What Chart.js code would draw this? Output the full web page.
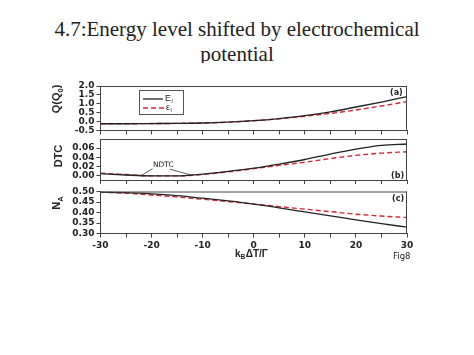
<!DOCTYPE html>
<html><head><meta charset="utf-8">
<script src="https://cdn.jsdelivr.net/npm/chart.js@4.4.1/dist/chart.umd.min.js"></script>
<style>
html,body{margin:0;padding:0;background:#fff;width:474px;height:355px;overflow:hidden}
#title{position:absolute;left:0;top:17px;width:474px;height:46px;overflow:hidden;text-align:center;font-family:"Liberation Serif";font-size:21px;line-height:25px;color:#222}
canvas{position:absolute;left:0;top:0}
</style></head><body>
<div id="title">4.7:Energy level shifted by electrochemical<br>potential</div>
<canvas id="ca" width="474" height="355"></canvas>
<canvas id="cb" width="474" height="355"></canvas>
<canvas id="cc" width="474" height="355"></canvas>
<script>
// ---- data ----
const xValues = [-30,-25,-20,-15,-10,-5,0,5,10,15,20,25,30];
const xTicks = [-30,-25,-20,-15,-10,-5,0,5,10,15,20,25,30];
const qE   = [-0.12,-0.12,-0.11,-0.10,-0.08,-0.03,0.05,0.17,0.33,0.55,0.82,1.10,1.40];
const qEps = [-0.12,-0.12,-0.11,-0.10,-0.08,-0.03,0.05,0.16,0.30,0.46,0.65,0.88,1.12];
const dtcE   = [0.004,0.001,-0.001,-0.001,0.003,0.009,0.016,0.025,0.035,0.047,0.058,0.066,0.069];
const dtcEps = [0.005,0.002,-0.001,-0.001,0.002,0.008,0.015,0.022,0.029,0.037,0.044,0.049,0.052];
const naE   = [0.497,0.495,0.489,0.480,0.468,0.455,0.440,0.422,0.403,0.384,0.365,0.347,0.330];
const naEps = [0.497,0.492,0.483,0.474,0.463,0.452,0.440,0.428,0.416,0.404,0.392,0.383,0.376];
const qTicks = [-0.5,0,0.5,1.0,1.5,2.0];
const dtcTicks = [0,0.02,0.04,0.06];
const naTicks = [0.30,0.35,0.40,0.45,0.50];
const ndtcPoints = [[-22,0],[-12,0]];

const AXC = '#444';
const RED = '#cf2b3a';
const tickFont = {family:'"DejaVu Sans"', size:9, weight:'bold'};

function pts(ys){ return xValues.map((x,i)=>({x:x,y:ys[i]})); }

function frame(){
  return {id:'frame', afterDraw(ch){
    const a=ch.chartArea, c=ch.ctx;
    c.save(); c.strokeStyle=AXC; c.lineWidth=1;
    c.beginPath();
    c.moveTo(a.left,a.top+0.5); c.lineTo(a.right,a.top+0.5);
    c.moveTo(a.right-0.5,a.top); c.lineTo(a.right-0.5,a.bottom);
    c.stroke(); c.restore();
  }};
}

function yTitle(ctx, x, y, main, sub, after){
  ctx.save();
  ctx.translate(x,y); ctx.rotate(-Math.PI/2);
  ctx.fillStyle='#222';
  const big='bold 11px "Liberation Sans"', small='bold 7.5px "Liberation Sans"';
  ctx.font=big;
  let w = ctx.measureText(main).width;
  let ws=0, wa=0;
  ctx.font=small; if(sub) ws=ctx.measureText(sub).width;
  ctx.font=big; if(after) wa=ctx.measureText(after).width;
  let x0 = -(w+ws+wa)/2;
  ctx.textBaseline='middle'; ctx.textAlign='left';
  ctx.fillText(main,x0,0);
  if(sub){ ctx.font=small; ctx.fillText(sub,x0+w,3.5); }
  if(after){ ctx.font=big; ctx.fillText(after,x0+w+ws,0); }
  ctx.restore();
}

function makePanel(id, cfg){
  return new Chart(document.getElementById(id), {
    type:'line',
    data:{datasets:[
      {label:'E', data:pts(cfg.s1), borderColor:'#222', borderWidth:1.3, pointRadius:0, cubicInterpolationMode:'monotone', fill:false},
      {label:'eps', data:pts(cfg.s2), borderColor:RED, borderWidth:1.4, borderDash:[5,3], pointRadius:0, cubicInterpolationMode:'monotone', fill:false}
    ]},
    options:{
      responsive:false, animation:false, devicePixelRatio:1,
      layout:{padding:{top:cfg.top,right:67,left:0,bottom:0}},
      plugins:{legend:{display:false},tooltip:{enabled:false}},
      scales:{
        x:{type:'linear',min:-30,max:30,
          afterFit:s=>{s.height=355-cfg.bottom;},
          afterBuildTicks:s=>{s.ticks=xTicks.map(v=>({value:v}));},
          ticks:{display:cfg.showX, autoSkip:false, maxRotation:0, padding:3, color:'#222', font:tickFont,
                 callback:v=> (v%10===0? String(v):'')},
          grid:{drawOnChartArea:false, drawTicks:true, tickLength:4, color:AXC},
          border:{color:AXC,width:1}},
        y:{min:cfg.min,max:cfg.max,
          afterFit:s=>{s.width=100.5;},
          afterBuildTicks:s=>{s.ticks=cfg.ticks.map(v=>({value:v}));},
          ticks:{autoSkip:false, padding:2, color:'#222', font:tickFont, callback:v=>Number(v).toFixed(cfg.dec)},
          grid:{drawOnChartArea:false, drawTicks:true, tickLength:4, color:AXC},
          border:{color:AXC,width:1}}
      }
    },
    plugins:[frame(), {id:'extra', afterDraw:cfg.extra}]
  });
}

makePanel('ca',{top:86,bottom:130.5,min:-0.5,max:2.0,ticks:qTicks,dec:1,showX:false,s1:qE,s2:qEps,
  extra(ch){
    const c=ch.ctx;
    yTitle(c,57,99,'Q(Q','0',')');
    c.save();
    c.fillStyle='#222'; c.font='bold 8px "DejaVu Sans"'; c.textBaseline='middle'; c.textAlign='left';
    c.fillText('(a)',390,92.5);
    // legend box
    c.strokeStyle='#555'; c.lineWidth=1;
    c.strokeRect(139.5,90.5,44,24);
    const d=ch.data.datasets;
    c.strokeStyle=d[0].borderColor; c.lineWidth=d[0].borderWidth;
    c.beginPath(); c.moveTo(143,99); c.lineTo(163,99); c.stroke();
    c.strokeStyle=d[1].borderColor; c.lineWidth=d[1].borderWidth; c.setLineDash(d[1].borderDash);
    c.beginPath(); c.moveTo(143,108); c.lineTo(164,108); c.stroke();
    c.setLineDash([]);
    c.fillStyle='#222'; c.font='9px "Liberation Sans"';
    c.fillText('E',165,98.5); c.font='5.5px "Liberation Sans"'; c.fillText('l',171.5,101.5);
    c.font='9px "Liberation Sans"'; c.fillText('\u03b5',166,107.5); c.font='5.5px "Liberation Sans"'; c.fillText('l',170.5,110.5);
    c.restore();
  }});

makePanel('cb',{top:139,bottom:180,min:-0.01,max:0.08,ticks:dtcTicks,dec:2,showX:false,s1:dtcE,s2:dtcEps,
  extra(ch){
    const c=ch.ctx, xs=ch.scales.x, ys=ch.scales.y;
    yTitle(c,59,156,'DTC','', '');
    c.save();
    c.fillStyle='#222'; c.font='bold 8px "DejaVu Sans"'; c.textBaseline='middle'; c.textAlign='left';
    c.fillText('(b)',391,176);
    c.font='7.5px "DejaVu Sans"'; c.textAlign='center';
    const tx=xs.getPixelForValue(-17.7), ty=ys.getPixelForValue(0.022);
    c.fillText('NDTC',tx,ty);
    c.strokeStyle='#333'; c.lineWidth=0.8;
    const starts=[[-19.8,0.015],[-16.4,0.0137]];
    ndtcPoints.forEach((p,i)=>{
      c.beginPath();
      c.moveTo(xs.getPixelForValue(starts[i][0]),ys.getPixelForValue(starts[i][1]));
      c.lineTo(xs.getPixelForValue(p[0]),ys.getPixelForValue(p[1]));
      c.stroke();
    });
    c.restore();
  }});

makePanel('cc',{top:191.5,bottom:233.5,min:0.30,max:0.50,ticks:naTicks,dec:2,showX:true,s1:naE,s2:naEps,
  extra(ch){
    const c=ch.ctx;
    yTitle(c,57,203,'N','A','');
    c.save();
    c.fillStyle='#222'; c.font='bold 8px "DejaVu Sans"'; c.textBaseline='middle'; c.textAlign='left';
    c.fillText('(c)',392,198.5);
    c.textBaseline='alphabetic';
    c.font='bold 10px "Liberation Sans"';
    let x=235; c.fillText('k',x,256.5); x+=c.measureText('k').width;
    c.font='bold 6.5px "Liberation Sans"'; c.fillText('B',x,259); x+=c.measureText('B').width+0.5;
    c.font='bold 10px "Liberation Sans"'; c.fillText('\u0394T/\u0393',x,256.5);
    c.font='8.5px "DejaVu Sans"'; c.fillText('Fig8',393,259);
    c.restore();
  }});
</script>
</body></html>
